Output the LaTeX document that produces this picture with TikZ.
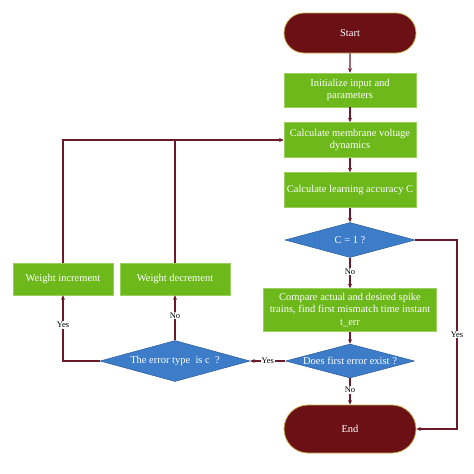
\documentclass[tikz,border=0pt]{standalone}
\usepackage{fontspec}
\setmainfont{Liberation Serif}
\usetikzlibrary{shapes.geometric,shapes.misc,arrows.meta}
\definecolor{termfill}{HTML}{6B1015}
\definecolor{termborder}{HTML}{C8B050}
\definecolor{procfill}{HTML}{6DB81A}
\definecolor{procborder}{HTML}{9BD060}
\definecolor{decfill}{HTML}{3C7CC8}
\definecolor{decborder}{HTML}{2A5C98}
\definecolor{linecol}{HTML}{6B1A2A}
\tikzset{
  terminal/.style={rounded rectangle, fill=termfill, draw=termborder, line width=0.8pt, text=white, font=\fontsize{10.5}{12.5}\selectfont, inner sep=0pt},
  procbox/.style={rectangle, fill=procfill, draw=procborder, line width=0.6pt, text=white, font=\fontsize{10.5}{12.5}\selectfont, align=center, inner sep=0pt},
  decbox/.style={diamond, aspect=3.6, fill=decfill, draw=decborder, line width=0.5pt, text=white, font=\fontsize{10.5}{12.5}\selectfont, inner sep=0pt},
  conn/.style={draw=linecol, line width=1.1pt, -{Stealth[length=4.5pt,width=4pt]}},
  plain/.style={draw=linecol, line width=1.1pt},
  lbl/.style={fill=white, inner sep=1pt, font=\fontsize{8.5}{10}\selectfont, text=black}
}
\begin{document}
\begin{tikzpicture}[x=1pt,y=-1pt]
\useasboundingbox (0,0) rectangle (474,474);
\node[terminal, minimum width=132pt, minimum height=40pt] (start) at (350,33) {Start};
\node[procbox, minimum width=132pt, minimum height=34pt] (init) at (350,90) {Initialize input and\\parameters};
\node[procbox, minimum width=132pt, minimum height=35pt] (memb) at (350,140) {Calculate membrane voltage\\dynamics};
\node[procbox, minimum width=132pt, minimum height=35pt] (acc) at (350,190) {Calculate learning accuracy C};
\node[decbox, minimum width=130pt, minimum height=35pt] (c1) at (350,240) {C = 1 ?};
\node[procbox, minimum width=173pt, minimum height=43pt] (comp) at (350,310) {Compare actual and desired spike\\trains, find first mismatch time instant\\t\_err};
\node[decbox, minimum width=129pt, minimum height=34pt] (dfe) at (350,361) {Does first error exist ?};
\node[terminal, minimum width=132pt, minimum height=48pt] (end) at (350,429) {End};
\node[decbox, minimum width=150pt, minimum height=41pt] (etype) at (175,361) {The error type\ \ is c\ \ ?};
\node[procbox, minimum width=100pt, minimum height=32pt] (winc) at (63,279) {Weight increment};
\node[procbox, minimum width=110pt, minimum height=32pt] (wdec) at (175,279) {Weight decrement};
\coordinate (cr) at (457,240);
\coordinate (cre) at (457,429);
\coordinate (tl) at (63,140);
\coordinate (tm) at (175,140);
\coordinate (bl) at (63,361);

\draw[conn] (start) -- (init);
\draw[conn] (init) -- (memb);
\draw[conn] (memb) -- (acc);
\draw[conn] (acc) -- (c1);
\draw[conn] (c1) -- node[lbl, pos=0.45]{No} (comp);
\draw[conn] (comp) -- (dfe);
\draw[conn] (dfe) -- node[lbl, pos=0.45]{No} (end);
\draw[conn] (c1.east) -- (cr) -- node[lbl, pos=0.5]{Yes} (cre) -- (end.east);
\draw[conn] (dfe.west) -- node[lbl, pos=0.5]{Yes} (etype.east);
\draw[conn] (etype.north) -- node[lbl, pos=0.55]{No} (wdec.south);
\draw[conn] (etype.west) -- (bl) -- node[lbl, pos=0.55]{Yes} (winc.south);
\draw[plain] (winc.north) -- (tl) -- (tm);
\draw[conn] (wdec.north) -- (tm) -- (memb.west);
\end{tikzpicture}
\end{document}
